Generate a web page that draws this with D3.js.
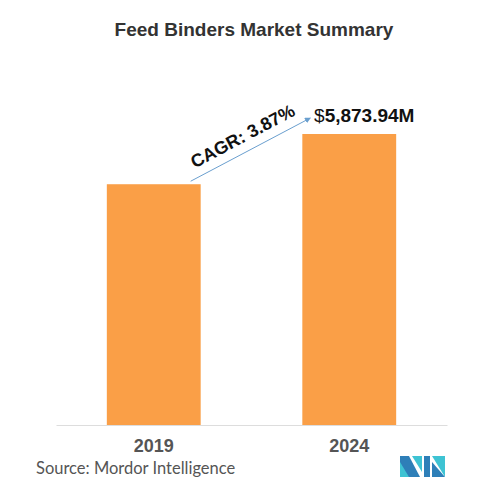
<!DOCTYPE html>
<html>
<head>
<meta charset="utf-8">
<script src="https://cdn.jsdelivr.net/npm/d3@7"></script>
<style>
  body { margin: 0; background: #fff; }
  svg { display: block; }
</style>
</head>
<body>
<div id="chart"></div>
<script>
// chart data
const years = ["2019", "2024"];
const values = [4860, 5873.94];
const valueLabels = ["", "5,873.94M"];
const cagrText = "CAGR: 3.87%";

const width = 495, height = 493;
const margin = { top: 60, right: 48, bottom: 68, left: 56 };

const svg = d3.select("#chart").append("svg")
    .attr("width", width)
    .attr("height", height);

svg.append("text")
    .attr("x", 254)
    .attr("y", 36)
    .attr("text-anchor", "middle")
    .style("font-family", "Liberation Sans, Arial, sans-serif")
    .style("font-weight", "bold")
    .style("font-size", "19px")
    .style("fill", "#333")
    .text("Feed Binders Market Summary");

const x = d3.scaleBand()
    .domain(years)
    .range([margin.left, width - margin.right])
    .paddingInner(0.52)
    .paddingOuter(0.26);

const y = d3.scaleLinear()
    .domain([0, d3.max(values)])
    .range([height - margin.bottom, 134]);

// bars
svg.selectAll(".bar")
    .data(years)
    .enter().append("rect")
    .attr("class", "bar")
    .attr("x", d => x(d))
    .attr("y", (d, i) => y(values[i]))
    .attr("width", x.bandwidth())
    .attr("height", (d, i) => y(0) - y(values[i]))
    .style("fill", "#FA9F47");

// x axis
const xAxis = svg.append("g")
    .attr("transform", `translate(0,${y(0)})`)
    .call(d3.axisBottom(x).tickSize(0).tickPadding(14));
xAxis.select(".domain").style("stroke", "#ddd");
xAxis.selectAll("text")
    .style("font-family", "Liberation Sans, Arial, sans-serif")
    .style("font-weight", "bold")
    .style("font-size", "18px")
    .style("fill", "#555");

// value label on last bar
const last = years.length - 1;
const vl = svg.append("text")
    .attr("x", x(years[last]) + x.bandwidth() / 2 + 15)
    .attr("y", y(values[last]) - 12)
    .attr("text-anchor", "middle")
    .style("font-family", "Liberation Sans, Arial, sans-serif")
    .style("font-size", "19px")
    .style("fill", "#111");
vl.append("tspan").text("$");
vl.append("tspan").style("font-weight", "bold").text(valueLabels[last]);

// CAGR arrow
const ax1 = x(years[0]) + x.bandwidth() - 10, ay1 = y(values[0]) - 3;
const ax2 = x(years[last]) + 8, ay2 = y(values[last]) - 16;

svg.append("defs").append("marker")
    .attr("id", "arrow")
    .attr("viewBox", "0 0 10 10")
    .attr("refX", 9)
    .attr("refY", 5)
    .attr("markerWidth", 6)
    .attr("markerHeight", 6)
    .attr("orient", "auto")
    .append("path")
    .attr("d", "M0,0 L10,5 L0,10 z")
    .style("fill", "#6a9fcf");

svg.append("line")
    .attr("x1", ax1).attr("y1", ay1)
    .attr("x2", ax2).attr("y2", ay2)
    .style("stroke", "#6a9fcf")
    .style("stroke-width", 1)
    .attr("marker-end", "url(#arrow)");

const angle = Math.atan2(ay2 - ay1, ax2 - ax1) * 180 / Math.PI;
const mx = (ax1 + ax2) / 2 - 5, my = (ay1 + ay2) / 2 - 8;
svg.append("text")
    .attr("transform", `translate(${mx},${my}) rotate(${angle})`)
    .attr("text-anchor", "middle")
    .style("font-family", "Liberation Sans, Arial, sans-serif")
    .style("font-weight", "bold")
    .style("font-size", "18px")
    .style("fill", "#111")
    .text(cagrText);

// source
svg.append("text")
    .attr("x", 36)
    .attr("y", 474)
    .style("font-family", "Lato, sans-serif")
    .style("font-size", "16.5px")
    .style("fill", "#555")
    .text("Source: Mordor Intelligence");

// logo
const logo = svg.append("g").attr("transform", "translate(400,456)");
logo.append("polygon").attr("points", "0,0 9,0 20,21 0,21 ").style("fill", "#2e7fb8");
logo.append("polygon").attr("points", "0,6 0,21 9,21").style("fill", "#3ec3d3");
logo.append("polygon").attr("points", "12,0 22,0 22,16").style("fill", "#3ec3d3");
logo.append("polygon").attr("points", "24,0 30,0 30,21 24,21").style("fill", "#2e7fb8");
logo.append("polygon").attr("points", "32,0 45,0 45,21").style("fill", "#3ec3d3");
logo.append("polygon").attr("points", "32,6 45,21 32,21").style("fill", "#2e7fb8");
</script>
</body>
</html>
